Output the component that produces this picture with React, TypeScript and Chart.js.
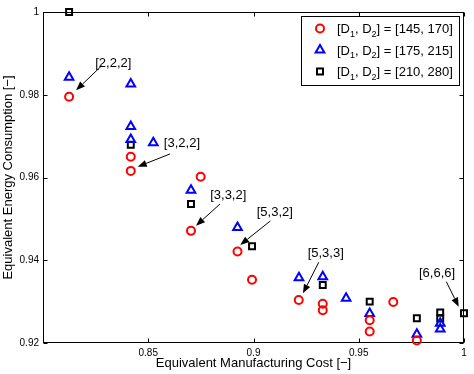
import React, { useEffect, useRef } from 'react';
import { Chart, registerables } from 'chart.js';

Chart.register(...registerables);

// ---- data ----
const D1 = [145, 175, 210];
const D2 = [170, 215, 280];

const redX = [0.8124, 0.8417, 0.8417, 0.8749, 0.8703, 0.8924, 0.8993, 0.9215, 0.9329, 0.9329, 0.9552, 0.9552, 0.9664, 0.9776];
const redY = [0.9795, 0.9650, 0.9616, 0.9602, 0.9471, 0.9421, 0.9353, 0.9304, 0.9295, 0.9279, 0.9255, 0.9228, 0.9299, 0.9206];

const blueX = [0.8124, 0.8417, 0.8417, 0.8417, 0.8524, 0.8703, 0.8924, 0.9216, 0.9329, 0.9440, 0.9552, 0.9776, 0.9887, 0.9887];
const blueY = [0.9842, 0.9826, 0.9723, 0.9692, 0.9684, 0.9569, 0.9479, 0.9358, 0.9360, 0.9308, 0.9271, 0.9221, 0.9248, 0.9234];

const blackX = [0.8124, 0.8417, 0.8703, 0.8993, 0.9329, 0.9552, 0.9776, 0.9887, 0.9887, 1.0];
const blackY = [1.0, 0.9679, 0.9536, 0.9434, 0.9340, 0.9300, 0.9260, 0.9274, 0.9259, 0.9272];

const xTickValues = [0.85, 0.9, 0.95, 1];
const yTickValues = [0.92, 0.94, 0.96, 0.98, 1];

// annotations: label, text centre (data), arrow start (data), arrow tip (data)
const annLabels = ['[2,2,2]', '[3,2,2]', '[3,3,2]', '[5,3,2]', '[5,3,3]', '[6,6,6]'];
const annText = [[0.8334, 0.98767], [0.8660, 0.96827], [0.8880, 0.95577], [0.9101, 0.95154], [0.9343, 0.94175], [0.9872, 0.93692]];
const annFrom = [[0.8279, 0.98702], [0.8603, 0.96568], [0.8841, 0.9536], [0.9080, 0.94949], [0.9310, 0.9395], [0.9916, 0.93482]];
const annTip = [[0.8157, 0.98108], [0.8450, 0.96261], [0.8727, 0.94835], [0.8937, 0.94369], [0.9235, 0.93201], [0.9975, 0.92877]];

const FONT = '"Liberation Sans", Arial, Helvetica, sans-serif';
const RED = '#ff0000';
const BLUE = '#0000ff';
const BLACK = '#000000';

const zip = (xs: number[], ys: number[]) => xs.map((x, i) => ({ x, y: ys[i] }));

function drawMarker(ctx: CanvasRenderingContext2D, kind: string, x: number, y: number, color: string) {
  ctx.save();
  ctx.strokeStyle = color;
  ctx.lineWidth = 2;
  ctx.beginPath();
  if (kind === 'circle') {
    ctx.arc(x, y, 4, 0, Math.PI * 2);
  } else if (kind === 'triangle') {
    const r = 5;
    ctx.moveTo(x, y - r);
    ctx.lineTo(x + r * Math.sin(Math.PI * 2 / 3), y + r * 0.5);
    ctx.lineTo(x - r * Math.sin(Math.PI * 2 / 3), y + r * 0.5);
    ctx.closePath();
  } else {
    ctx.rect(x - 3, y - 3, 6, 6);
  }
  ctx.stroke();
  ctx.restore();
}

const boxPlugin = {
  id: 'matlabBox',
  beforeDatasetsDraw(chart: any) {
    const { ctx, chartArea: a, scales } = chart;
    const L = Math.round(a.left) + 0.5, R = Math.round(a.right) - 0.5;
    const T = Math.round(a.top) + 0.5, B = Math.round(a.bottom) - 0.5;
    ctx.save();
    ctx.strokeStyle = '#000';
    ctx.lineWidth = 1;
    ctx.strokeRect(L, T, R - L, B - T);
    const tl = 4;
    ctx.beginPath();
    xTickValues.forEach((v) => {
      const px = Math.round(scales.x.getPixelForValue(v)) + 0.5;
      ctx.moveTo(px, B); ctx.lineTo(px, B - tl);
      ctx.moveTo(px, T); ctx.lineTo(px, T + tl);
    });
    yTickValues.forEach((v) => {
      const py = Math.round(scales.y.getPixelForValue(v)) + 0.5;
      ctx.moveTo(L, py); ctx.lineTo(L + tl, py);
      ctx.moveTo(R, py); ctx.lineTo(R - tl, py);
    });
    ctx.stroke();
    ctx.restore();
  },
  afterDatasetsDraw(chart: any) {
    const { ctx, scales } = chart;
    ctx.save();
    // annotations
    ctx.font = `13px ${FONT}`;
    ctx.fillStyle = '#000';
    ctx.strokeStyle = '#000';
    ctx.textAlign = 'center';
    ctx.textBaseline = 'middle';
    annLabels.forEach((lab, i) => {
      const tx = scales.x.getPixelForValue(annText[i][0]);
      const ty = scales.y.getPixelForValue(annText[i][1]);
      ctx.fillText(lab, tx, ty);
      const x0 = scales.x.getPixelForValue(annFrom[i][0]);
      const y0 = scales.y.getPixelForValue(annFrom[i][1]);
      const x1 = scales.x.getPixelForValue(annTip[i][0]);
      const y1 = scales.y.getPixelForValue(annTip[i][1]);
      const ang = Math.atan2(y1 - y0, x1 - x0);
      const hl = 9, hw = 3.5;
      const bx = x1 - hl * Math.cos(ang), by = y1 - hl * Math.sin(ang);
      ctx.lineWidth = 1;
      ctx.beginPath();
      ctx.moveTo(x0, y0);
      ctx.lineTo(bx, by);
      ctx.stroke();
      ctx.beginPath();
      ctx.moveTo(x1, y1);
      ctx.lineTo(bx + hw * Math.sin(ang), by - hw * Math.cos(ang));
      ctx.lineTo(bx - hw * Math.sin(ang), by + hw * Math.cos(ang));
      ctx.closePath();
      ctx.fill();
    });

    // legend
    const lx = 301.5, ly = 16.5, lw = 158, lh = 69;
    ctx.fillStyle = '#fff';
    ctx.fillRect(lx, ly, lw, lh);
    ctx.strokeStyle = '#000';
    ctx.lineWidth = 1;
    ctx.strokeRect(lx, ly, lw, lh);
    const kinds = ['circle', 'triangle', 'rect'];
    const colors = [RED, BLUE, BLACK];
    const rows = [28.5, 50, 71.5];
    ctx.textAlign = 'left';
    ctx.textBaseline = 'alphabetic';
    rows.forEach((ry, i) => {
      drawMarker(ctx, kinds[i], 320, ry, colors[i]);
      ctx.fillStyle = '#000';
      let x = 337;
      const base = ry + 4.6;
      const parts: [string, boolean][] = [['[D', false], ['1', true], [', D', false], ['2', true], [`] = [${D1[i]}, ${D2[i]}]`, false]];
      parts.forEach(([t, sub]) => {
        ctx.font = sub ? `9px ${FONT}` : `13px ${FONT}`;
        ctx.fillText(t, x, sub ? base + 3.5 : base);
        x += ctx.measureText(t).width;
      });
    });
    ctx.restore();
  },
};

export default function App() {
  const ref = useRef<HTMLCanvasElement>(null);
  useEffect(() => {
    document.body.style.margin = '0';
    const canvas = ref.current!;
    const mk = (label: string, xs: number[], ys: number[], color: string, style: string, radius: number) => ({
      label,
      data: zip(xs, ys),
      borderColor: color,
      backgroundColor: 'rgba(0,0,0,0)',
      pointStyle: style,
      pointRadius: radius,
      pointBorderWidth: 2,
      pointHoverRadius: radius,
      showLine: false,
      clip: false as any,
    });
    const chart = new Chart(canvas, {
      type: 'scatter',
      data: {
        datasets: [
          mk(`[D1, D2] = [${D1[0]}, ${D2[0]}]`, redX, redY, RED, 'circle', 4),
          mk(`[D1, D2] = [${D1[1]}, ${D2[1]}]`, blueX, blueY, BLUE, 'triangle', 5),
          mk(`[D1, D2] = [${D1[2]}, ${D2[2]}]`, blackX, blackY, BLACK, 'rect', 4.2),
        ],
      },
      options: {
        responsive: false,
        animation: false,
        layout: { padding: { left: 0, right: 10, top: 12, bottom: 0 } },
        plugins: { legend: { display: false }, tooltip: { enabled: false } },
        scales: {
          x: {
            type: 'linear',
            min: 0.8,
            max: 1,
            grid: { display: false, drawTicks: false },
            border: { display: false },
            afterBuildTicks: (s: any) => { s.ticks = [0.8, ...xTickValues].map((v) => ({ value: v })); },
            ticks: {
              padding: 4,
              color: '#000',
              maxRotation: 0,
              autoSkip: false,
              font: { family: FONT, size: 10 },
              callback: (v: any) => (Math.abs(v - 0.8) < 1e-9 ? '' : String(Number(Number(v).toFixed(2)))),
            },
            title: {
              display: true,
              text: 'Equivalent Manufacturing Cost [−]',
              color: '#000',
              font: { family: FONT, size: 13 },
              padding: { top: 0, bottom: 3 },
            },
            afterFit: (s: any) => { s.height = 31; },
          },
          y: {
            type: 'linear',
            min: 0.92,
            max: 1,
            grid: { display: false, drawTicks: false },
            border: { display: false },
            afterBuildTicks: (s: any) => { s.ticks = yTickValues.map((v) => ({ value: v })); },
            ticks: {
              padding: 4,
              color: '#000',
              autoSkip: false,
              font: { family: FONT, size: 10 },
              callback: (v: any) => String(Number(Number(v).toFixed(2))),
            },
            title: {
              display: true,
              text: 'Equivalent Energy Consumption [−]',
              color: '#000',
              font: { family: FONT, size: 13 },
              padding: { top: 1, bottom: 0 },
            },
            afterFit: (s: any) => { s.width = 43; },
          },
        },
      },
      plugins: [boxPlugin],
    } as any);
    return () => chart.destroy();
  }, []);
  return (
    <div style={{ width: 474, height: 374, background: '#fff' }}>
      <canvas ref={ref} width={474} height={374} style={{ display: 'block' }} />
    </div>
  );
}
